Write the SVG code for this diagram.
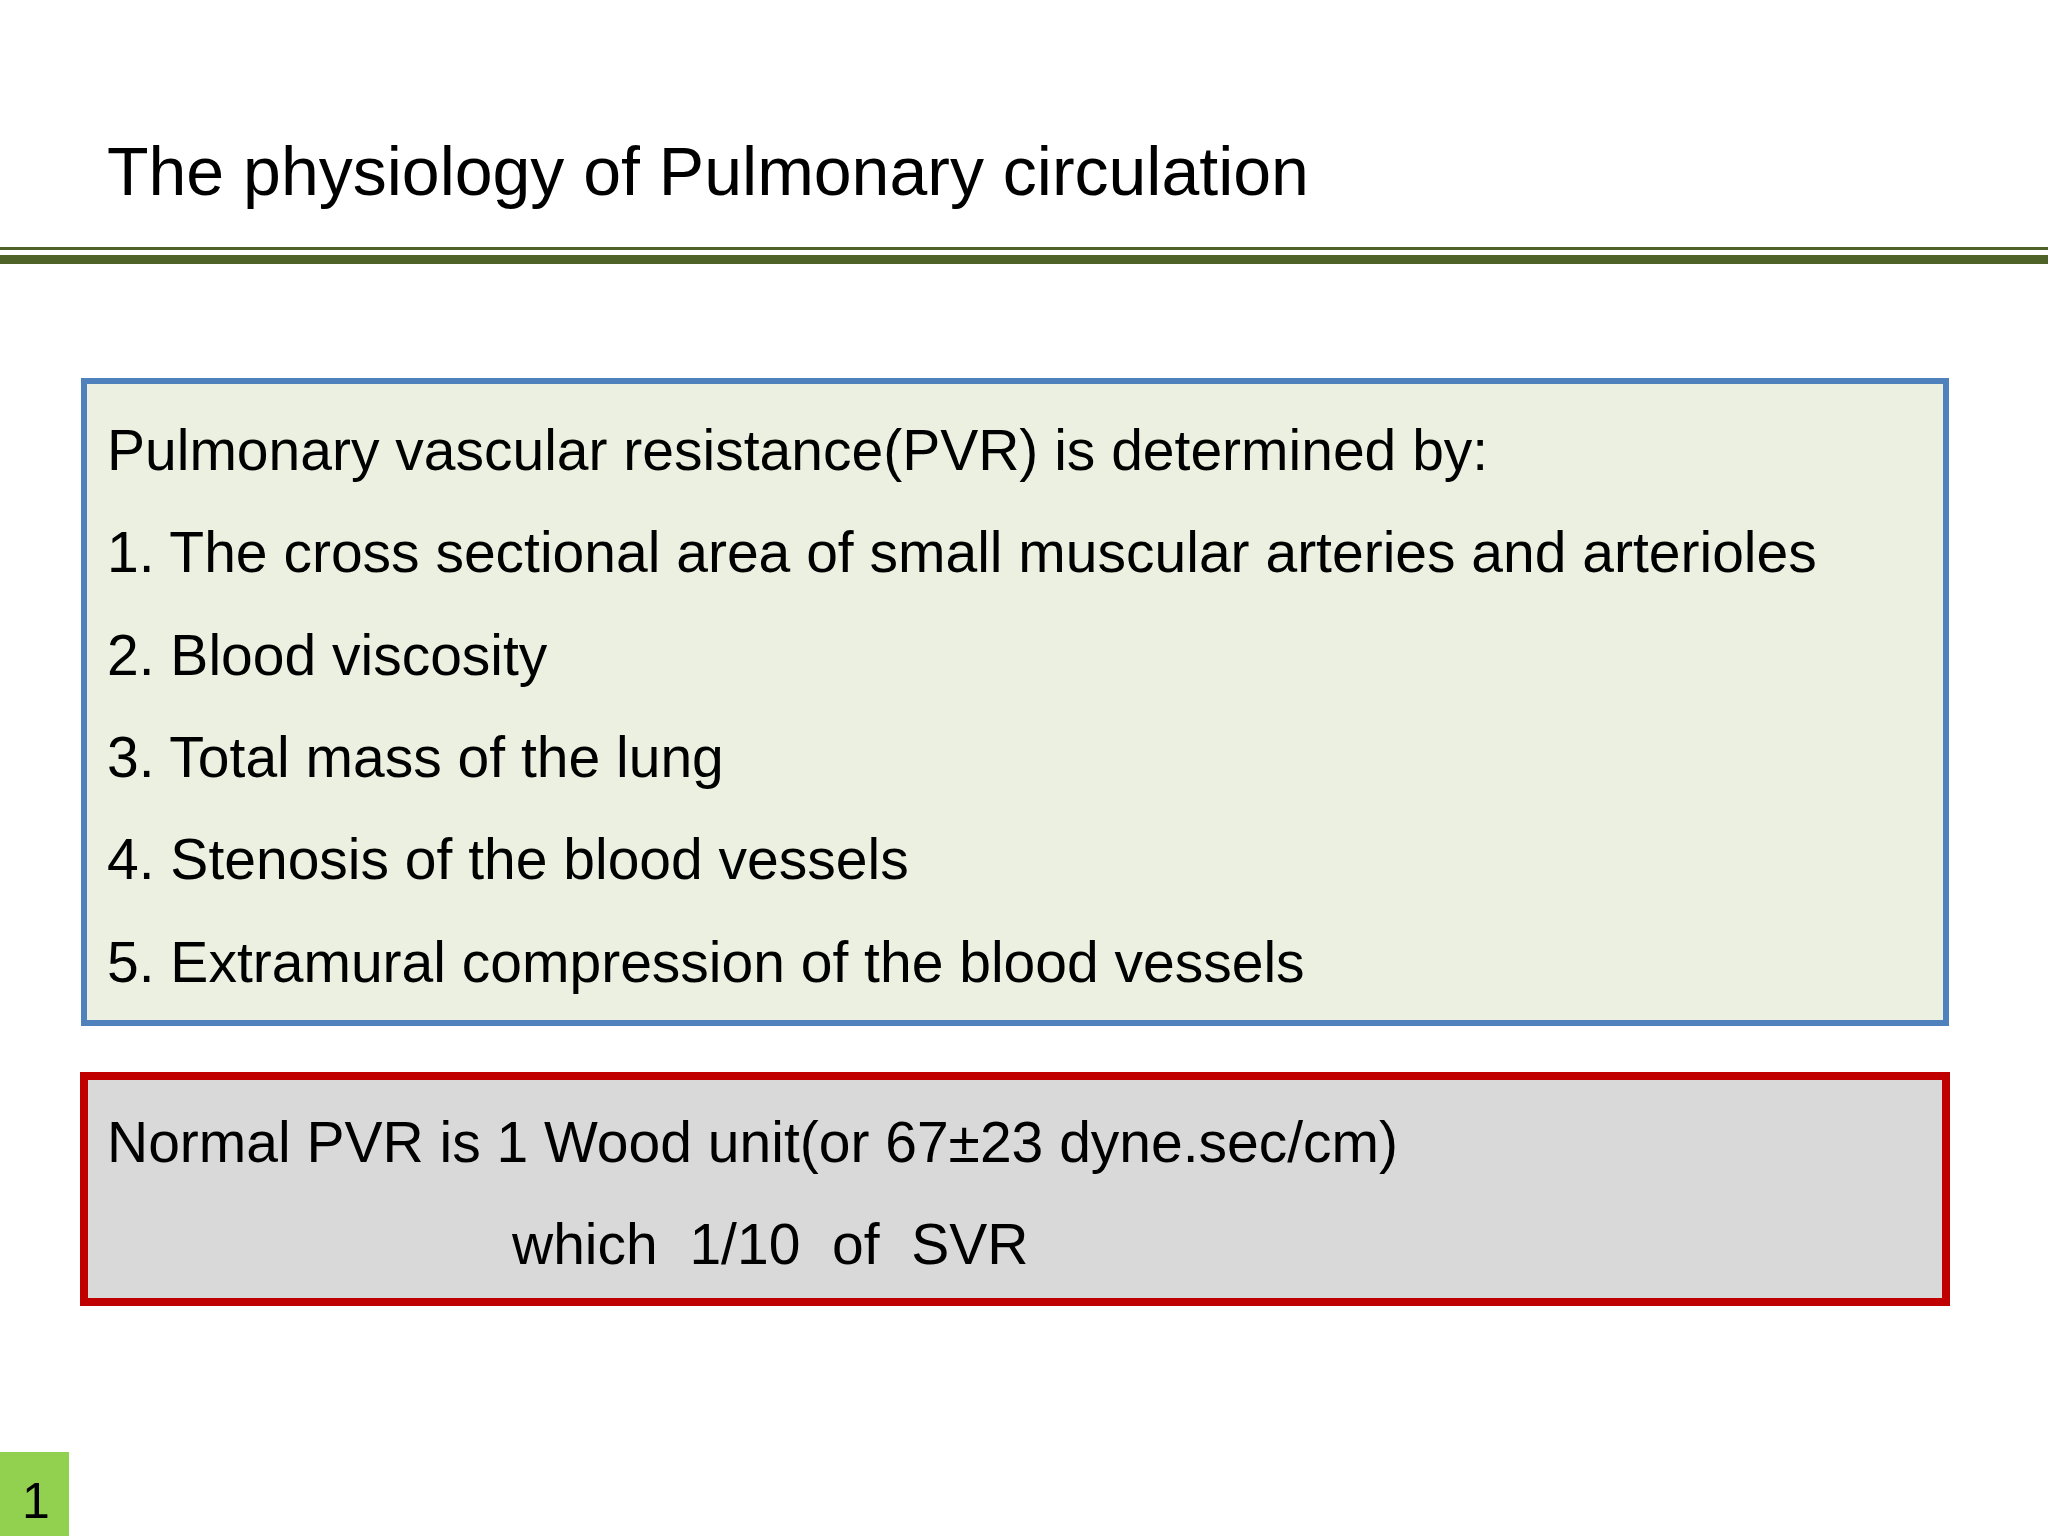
<svg xmlns="http://www.w3.org/2000/svg" width="2048" height="1536" viewBox="0 0 2048 1536">
<style>
text{font-family:"Liberation Sans",Arial,sans-serif;fill:#000}
.b{font-size:57px}
</style>
<rect width="2048" height="1536" fill="#fff"/>
<g id="title"><text x="107" y="195" font-size="68">The physiology of Pulmonary circulation</text></g>
<g id="rule">
<rect x="0" y="247" width="2048" height="3" fill="#4f6228"/>
<rect x="0" y="255" width="2048" height="9" fill="#4f6228"/>
</g>
<g id="box1">
<rect x="84" y="381" width="1862" height="642" fill="#ebf0e0" stroke="#4f81bd" stroke-width="6"/>
<text class="b" x="107" y="470">Pulmonary vascular resistance(PVR) is determined by:</text>
<text class="b" x="107" y="572">1. The cross sectional area of small muscular arteries and arterioles</text>
<text class="b" x="107" y="675">2. Blood viscosity</text>
<text class="b" x="107" y="777">3. Total mass of the lung</text>
<text class="b" x="107" y="879">4. Stenosis of the blood vessels</text>
<text class="b" x="107" y="982">5. Extramural compression of the blood vessels</text>
</g>
<g id="box2">
<rect x="84" y="1076" width="1862" height="226" fill="#d9d9d9" stroke="#c00000" stroke-width="8"/>
<text class="b" x="107" y="1162">Normal PVR is 1 Wood unit(or 67±23 dyne.sec/cm)</text>
<text class="b" x="512" y="1264" xml:space="preserve">which  1/10  of  SVR</text>
</g>
<g id="page">
<rect x="0" y="1452" width="69" height="84" fill="#92d050"/>
<text x="22" y="1518" font-size="50">1</text>
</g>
</svg>
